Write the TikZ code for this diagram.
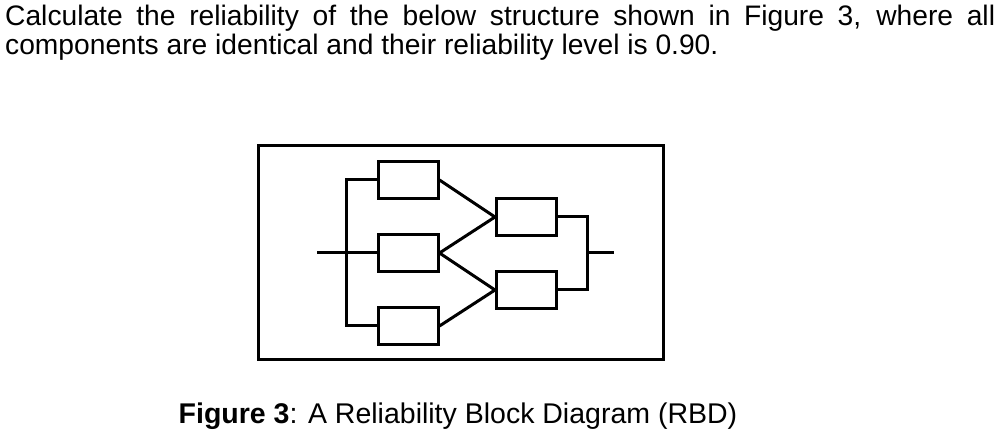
\documentclass[tikz,border=0pt]{standalone}
\usepackage{fontspec}
\setmainfont{Liberation Sans}
\begin{document}
\begin{tikzpicture}[x=1pt,y=-1pt,
  blk/.style={draw,line width=3pt,minimum width=60pt,minimum height=37pt,inner sep=0pt},
  wire/.style={line width=3pt}]
\useasboundingbox (0,0) rectangle (999,438);
\node[anchor=north west,inner sep=0pt,align=left,font=\fontsize{28.2}{29}\selectfont] (txt) at (5,5)
{\makebox[990pt][s]{Calculate the reliability of the below structure shown in Figure 3, where all}\\components are identical and their reliability level is 0.90.};
\node[draw,line width=3pt,minimum width=405pt,minimum height=214pt,inner sep=0pt] (frame) at (460.5,253) {};
\node[blk] (a) at (408,180) {};
\node[blk] (b) at (408,253) {};
\node[blk] (c) at (408,326) {};
\node[blk] (d) at (526.5,217) {};
\node[blk] (e) at (526.5,290) {};
\coordinate (in) at (317,253);
\coordinate (bt) at (346,180);
\coordinate (bb) at (346,326);
\coordinate (rt) at (587,217);
\coordinate (rb) at (587,290);
\coordinate (out) at (614,253);
\draw[wire] (in) -- (b.west);
\draw[wire] (a.west) -- (bt) -- (bb) -- (c.west);
\draw[wire] (a.east) -- (d.west);
\draw[wire] (b.east) -- (d.west);
\draw[wire] (b.east) -- (e.west);
\draw[wire] (c.east) -- (e.west);
\draw[wire] (d.east) -- (rt) -- (rb) -- (e.east);
\draw[wire] (587,253) -- (out);
\node[font=\fontsize{28.5}{30}\selectfont] (cap) at (458,416) {\textbf{Figure 3}: A Reliability Block Diagram (RBD)};
\end{tikzpicture}
\end{document}
